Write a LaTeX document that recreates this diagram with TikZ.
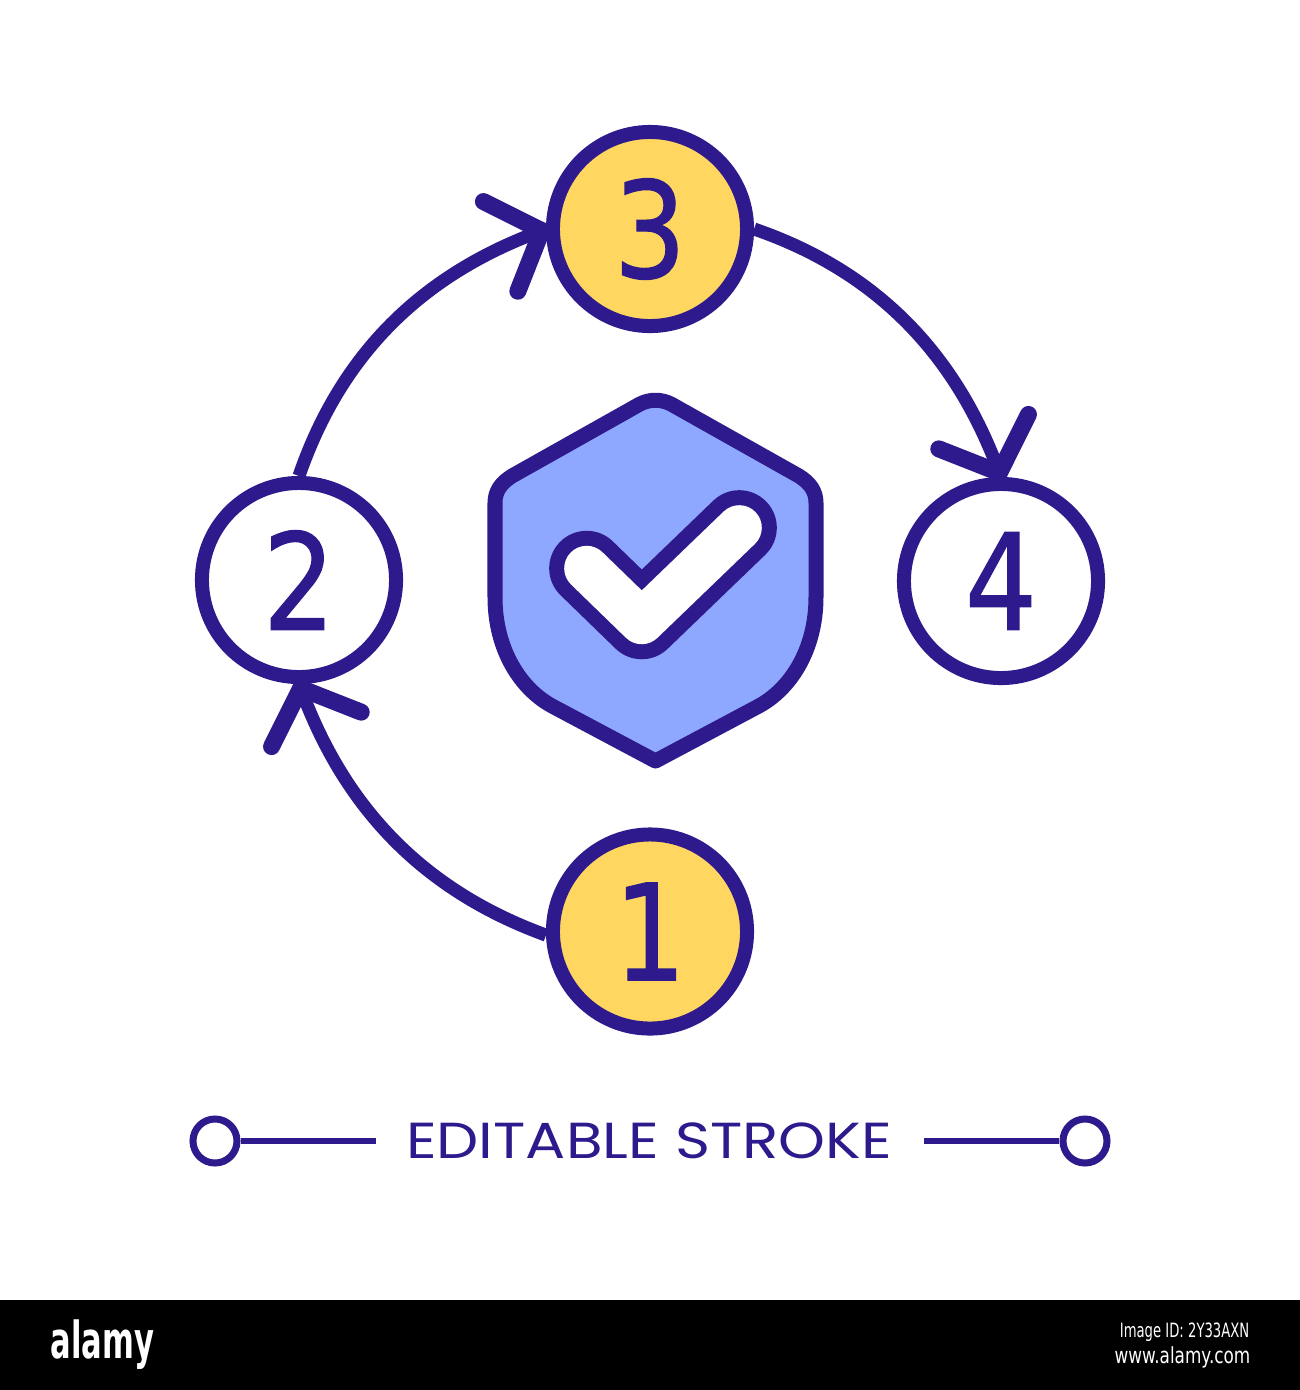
\documentclass[tikz,border=0pt]{standalone}
\usepackage{fontspec}
\usepackage{graphicx}
\usetikzlibrary{arrows.meta}
\setmainfont{DejaVu Sans}
\newfontfamily\labelfont{Poppins}
\newfontfamily\digitfont[FakeBold=1]{DejaVu Sans}
\definecolor{inkblue}{HTML}{2E1A8C}
\definecolor{shieldblue}{HTML}{8FA8FF}
\definecolor{stepyellow}{HTML}{FFD760}
\newcommand{\stepdigit}[1]{\scalebox{.85}[1]{\digitfont\fontsize{38}{38}\selectfont #1}}
\tikzset{
  numnode/.style={circle, draw=inkblue, line width=.14cm, minimum size=1.94cm,
          inner sep=0pt, text=inkblue},
  link/.style={draw=inkblue, line width=.13cm, shorten >=-.04cm, looseness=.96,
          -{Straight Barb[length=.44cm,width=.96cm,line width=.17cm,round]}},
  endnode/.style={circle, draw=inkblue, line width=.07cm, fill=white,
          minimum size=.44cm, inner sep=0pt},
  endline/.style={draw=inkblue, line width=.06cm},
  bandtext/.style={text=white, inner sep=0pt}
}

\begin{document}
\begin{tikzpicture}[x=.01cm,y=-.01cm]
\useasboundingbox (0,0) rectangle (1300,1390);
\fill[white] (0,0) rectangle (1300,1300);
\fill[black] (0,1300) rectangle (1300,1390);

\node[numnode, fill=stepyellow] (one) at (650,931.5) {\stepdigit{1}};
\node[numnode, fill=white] (two) at (299,580) {\stepdigit{2}};
\node[numnode, fill=stepyellow] (three) at (650,229) {\stepdigit{3}};
\node[numnode, fill=white] (four) at (1001,581) {\stepdigit{4}};

\draw[link] (one.182) to[out=160,in=-69] (two.south);
\draw[link] (two.north) to[out=71,in=201] (three.west);
\draw[link] (three.east) to[out=-19,in=111] (four.north);

\draw[draw=inkblue, fill=shieldblue, line width=.15cm, line join=round]
  (640,404) .. controls (650,399) and (661,399) .. (671,404) -- (799,476)
  .. controls (810,483) and (816,491) .. (816,503) -- (816,597)
  .. controls (816,650) and (790,690) .. (757,707) -- (655.5,761) -- (554,707)
  .. controls (521,690) and (495,650) .. (495,597) -- (495,503)
  .. controls (495,491) and (501,483) .. (512,476) -- cycle;

\coordinate (checkleft) at (586.7,568.3);
\coordinate (checkmid) at (641.7,621.7);
\coordinate (checkright) at (739.3,527.7);
\draw[draw=inkblue, line width=.15cm, double=white, double distance=.45cm,
      line cap=round, line join=round] (checkleft) -- (checkmid) -- (checkright);

\node[endnode] (endl) at (215,1141) {};
\node[endnode] (endr) at (1085,1141) {};
\coordinate (linel) at (376,1141);
\coordinate (liner) at (924,1141);
\draw[endline] (endl) -- (linel);
\draw[endline] (liner) -- (endr);
\node[text=inkblue, inner sep=0pt] (stroke) at (649,1141)
      {\scalebox{1.178}[1]{\labelfont\fontsize{14.4}{14.4}\selectfont EDITABLE STROKE}};

\node[bandtext, anchor=west] (logo) at (50,1345)
      {\scalebox{.6}[1]{\fontsize{14.5}{14.5}\selectfont\bfseries alamy}};
\node[bandtext, anchor=east] (imageid) at (1250,1332)
      {\scalebox{.67}[1]{\fontsize{5.6}{6}\selectfont Image ID: 2Y33AXN}};
\node[bandtext, anchor=east] (site) at (1251,1357)
      {\scalebox{.76}[1]{\fontsize{6.3}{7}\selectfont www.alamy.com}};
\end{tikzpicture}
\end{document}
